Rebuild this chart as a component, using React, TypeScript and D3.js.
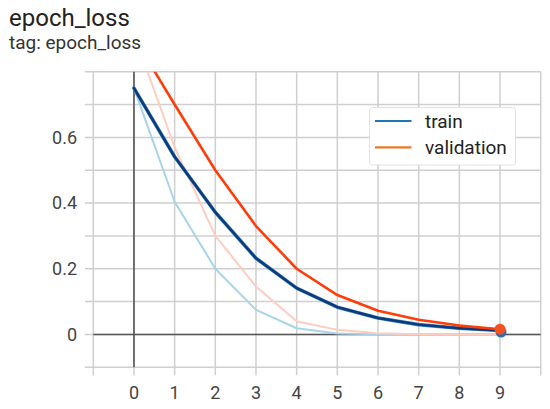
import { useMemo } from 'react'
import * as d3 from 'd3'

// epochs and values
const epochs = [0, 1, 2, 3, 4, 5, 6, 7, 8, 9]
const trainSmoothed = [0.75, 0.541, 0.372, 0.232, 0.141, 0.083, 0.05, 0.03, 0.019, 0.012]
const trainRaw = [0.75, 0.404, 0.2, 0.075, 0.019, 0.003, 0.001, 0.0, 0.0, 0.0]
const valSmoothed = [0.905, 0.7, 0.5, 0.33, 0.2, 0.12, 0.072, 0.045, 0.027, 0.016]
const valRaw = [0.915, 0.57, 0.3, 0.146, 0.04, 0.014, 0.004, 0.001, 0.0, 0.0]

const xTicks = [0, 1, 2, 3, 4, 5, 6, 7, 8, 9]
const xGrid = [-1, 0, 1, 2, 3, 4, 5, 6, 7, 8, 9, 10]
const yLabels = [0, 0.2, 0.4, 0.6]
const yGrid = [-0.1, 0, 0.1, 0.2, 0.3, 0.4, 0.5, 0.6, 0.7, 0.8]

const legendItems = [
  { label: 'train', color: '#1f77b4' },
  { label: 'validation', color: '#f0792a' },
]

const W = 550
const H = 409
const FONT = 'Roboto, "Noto Sans", sans-serif'

export default function App() {
  const x = useMemo(() => d3.scaleLinear().domain([-1, 10]).range([93.3, 540.7]), [])
  const y = useMemo(() => d3.scaleLinear().domain([-0.1, 0.8]).range([367.3, 71.7]), [])

  const line = d3
    .line<number>()
    .x((_, i) => x(epochs[i]))
    .y(d => y(d))

  const last = epochs.length - 1

  return (
    <div style={{ position: 'fixed', left: 0, top: 0, width: W, height: H, background: '#fff' }}>
      <svg width={W} height={H} style={{ display: 'block' }} fontFamily={FONT}>
        <defs>
          <clipPath id="plot-clip">
            <rect x={x(-1)} y={y(0.8)} width={x(10) - x(-1)} height={y(-0.1) - y(0.8)} />
          </clipPath>
        </defs>

        {/* titles */}
        <text x={9} y={26} fontSize={24} fill="#222">epoch_loss</text>
        <text x={9} y={49} fontSize={19} fill="#333">tag: epoch_loss</text>

        {/* grid */}
        {yGrid.map(v => (
          <line key={'gy' + v} x1={85} x2={x(10)} y1={y(v)} y2={y(v)} stroke="#cfcfcf" strokeWidth={1.5} />
        ))}
        {xGrid.map(v => (
          <line key={'gx' + v} x1={x(v)} x2={x(v)} y1={y(0.8)} y2={y(-0.1) + 8} stroke="#cfcfcf" strokeWidth={1.5} />
        ))}

        {/* zero axes */}
        <line x1={x(-1)} x2={x(10)} y1={y(0)} y2={y(0)} stroke="#555" strokeWidth={1.6} />
        <line x1={x(0)} x2={x(0)} y1={y(0.8)} y2={y(-0.1)} stroke="#555" strokeWidth={1.6} />

        {/* tick labels */}
        {yLabels.map(v => (
          <text key={'ly' + v} x={77} y={y(v)} dy="0.35em" textAnchor="end" fontSize={18} fill="#444">
            {v === 0 ? '0' : d3.format('.1f')(v)}
          </text>
        ))}
        {xTicks.map(v => (
          <text key={'lx' + v} x={x(v)} y={393} dy="0.35em" textAnchor="middle" fontSize={18} fill="#444">
            {v}
          </text>
        ))}

        {/* series */}
        <g clipPath="url(#plot-clip)" fill="none" strokeLinejoin="round" strokeLinecap="round">
          <path d={line(trainRaw) ?? ''} stroke="#a8d4ea" strokeWidth={2} />
          <path d={line(valRaw) ?? ''} stroke="#ffcdc0" strokeWidth={2} />
          <path d={line(trainSmoothed) ?? ''} stroke="#3b7fc0" strokeWidth={3.6} />
          <path d={line(trainSmoothed) ?? ''} stroke="#0a3a78" strokeWidth={2.4} />
          <path d={line(valSmoothed) ?? ''} stroke="#ff3d0a" strokeWidth={2.6} />
          <circle cx={x(epochs[last]) + 1} cy={y(trainSmoothed[last]) + 1.5} r={5.5} fill="#2a6fb5" />
          <circle cx={x(epochs[last])} cy={y(valSmoothed[last])} r={5.5} fill="#f4511e" />
        </g>

        {/* legend */}
        <g>
          <rect x={369.5} y={107.5} width={146} height={57.5} rx={3} fill="#fff" stroke="#e2e2e2" strokeWidth={1} />
          {legendItems.map((item, i) => (
            <g key={item.label} transform={`translate(0,${121 + i * 26.3})`}>
              <line x1={375} x2={411.5} y1={0} y2={0} stroke={item.color} strokeWidth={2.2} />
              <text x={425} y={0} dy="0.35em" fontSize={19} fill="#222">{item.label}</text>
            </g>
          ))}
        </g>
      </svg>
    </div>
  )
}
